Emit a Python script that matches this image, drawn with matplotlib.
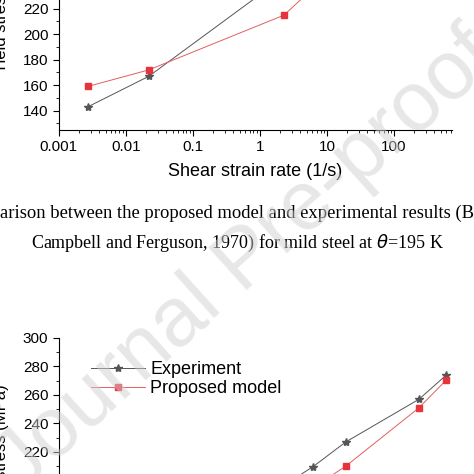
import numpy as np
import matplotlib.pyplot as plt
from matplotlib.ticker import MultipleLocator, LogLocator, NullFormatter, FixedLocator, FixedFormatter

plt.rcParams['font.family'] = ['Liberation Sans', 'DejaVu Sans']

# top chart (mild steel, 195 K)
top_rate = [0.0027, 0.022, 2.3, 30.0]
top_exp = [143, 167, 245, 290]
top_model = [159, 172, 215, 255]
top_model_rate = [0.0027, 0.022, 2.3, 15.0]

# bottom chart
bot_rate = [2.0, 6.2, 19, 235, 600]
bot_exp = [195, 209.7, 227, 257, 274]
bot_model_rate = [6.2, 19, 235, 600]
bot_model = [195, 210, 251, 270.5]

xticks = [0.001, 0.01, 0.1, 1, 10, 100]
xticklabels = ['0.001', '0.01', '0.1', '1', '10', '100']

fig = plt.figure(figsize=(4.74, 4.74), dpi=100)


def style(ax):
    ax.set_xscale('log')
    ax.set_xlim(0.001, 735)
    ax.spines['top'].set_visible(False)
    ax.spines['right'].set_visible(False)
    ax.xaxis.set_major_locator(FixedLocator(xticks))
    ax.xaxis.set_major_formatter(FixedFormatter(xticklabels))
    ax.xaxis.set_minor_locator(LogLocator(base=10, subs=np.arange(2, 10), numticks=20))
    ax.xaxis.set_minor_formatter(NullFormatter())
    ax.yaxis.set_major_locator(MultipleLocator(20))
    ax.yaxis.set_minor_locator(MultipleLocator(10))
    ax.tick_params(labelsize=11, length=4, width=0.8)
    ax.tick_params(which='minor', length=2.5)
    ax.set_ylabel('Yield stress (MPa)', fontsize=12, labelpad=10)


ax1 = fig.add_axes([0.124, 0.726, 0.83, 0.525])
ax1.plot(top_rate, top_exp, color='#555555', lw=0.7, marker='*', ms=6, label='Experiment')
ax1.plot(top_model_rate, top_model, color='#e06060', lw=0.7, marker='s', ms=5,
         mfc='#e8323c', mec='#e8323c', label='Proposed model')
ax1.set_ylim(125, 320)
style(ax1)
ax1.set_xlabel('Shear strain rate (1/s)', fontsize=13, labelpad=6)

ax2 = fig.add_axes([0.124, -0.194, 0.83, 0.481])
ax2.plot(bot_rate, bot_exp, color='#555555', lw=0.7, marker='*', ms=6, label='Experiment')
ax2.plot(bot_model_rate, bot_model, color='#e06060', lw=0.7, marker='s', ms=5,
         mfc='#e8323c', mec='#e8323c', label='Proposed model')
ax2.set_ylim(140, 300)
style(ax2)
ax2.legend(loc='upper left', bbox_to_anchor=(0.04, 0.97), frameon=False, fontsize=13,
           handlelength=3.0, handletextpad=0.3, labelspacing=0.1)

fig.text(0.5, 1 - 213 / 474, 'arison between the proposed model and experimental results (B',
         ha='center', va='center', fontsize=13.4, family=['Liberation Serif'])
fig.text(0.5, 1 - 243 / 474, r'Campbell and Ferguson, 1970) for mild steel at $\theta$=195 K',
         ha='center', va='center', fontsize=13, family=['Liberation Serif'])

fig.text(0.52, 0.45, 'Journal Pre-proof', ha='center', va='center', rotation=42,
         fontsize=60, color='#d0d0d0', alpha=0.5, zorder=10)

fig.savefig('out.png', dpi=100)
